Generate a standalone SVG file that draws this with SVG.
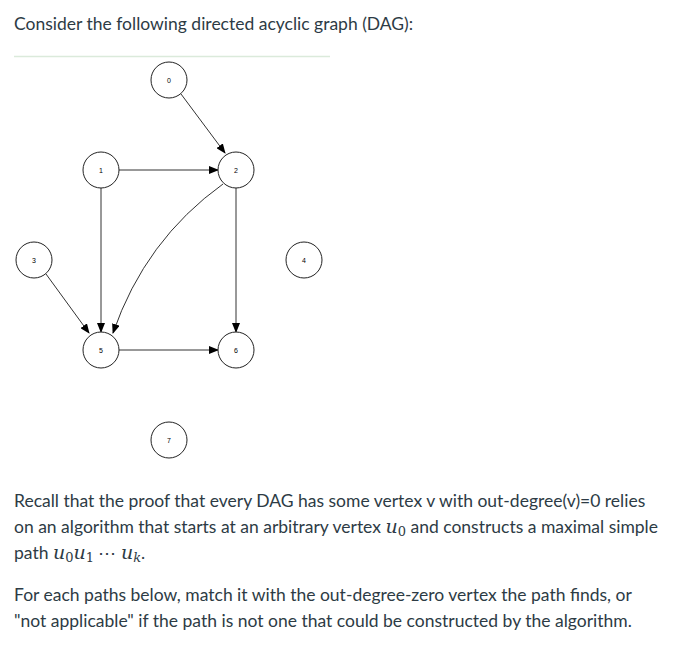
<svg xmlns="http://www.w3.org/2000/svg" width="692" height="657" viewBox="0 0 692 657">
<style>
.t{font-family:Lato,"Liberation Sans",sans-serif;font-size:17.5px;fill:#2d3b45}
.m{font-family:"DejaVu Serif",serif;font-style:italic;font-size:19px;fill:#2d3b45}
.s{font-family:"DejaVu Serif",serif;font-size:13px;fill:#2d3b45}
.n circle{fill:#fff;stroke:#222;stroke-width:1}
.n text{font-family:"Liberation Sans",sans-serif;font-size:7px;text-anchor:middle;fill:#000}
.e{stroke:#333;stroke-width:1;fill:none;marker-end:url(#a)}
</style>
<defs><marker id="a" markerWidth="10" markerHeight="8" refX="9" refY="4" orient="auto" markerUnits="userSpaceOnUse"><path d="M0,0L10,4L0,8z" fill="#000"/></marker></defs>
<rect width="692" height="657" fill="#fff"/>
<text class="t" x="14" y="30">Consider the following directed acyclic graph (DAG):</text>
<line x1="14" y1="56.5" x2="330" y2="56.5" stroke="#dbeadb" stroke-width="1.5"/>
<g id="edges">
<line class="e" x1="181" y1="94" x2="225" y2="153"/>
<line class="e" x1="119" y1="170" x2="218" y2="170"/>
<line class="e" x1="101" y1="188" x2="101" y2="332"/>
<path class="e" d="M223,184 Q145,240 113,333"/>
<line class="e" x1="236" y1="188" x2="236" y2="332"/>
<line class="e" x1="46" y1="274" x2="89" y2="333"/>
<line class="e" x1="119" y1="350" x2="218" y2="350"/>
</g>
<g id="n0" class="n"><circle cx="169" cy="80" r="18"/><text x="169" y="82.5">0</text></g>
<g id="n1" class="n"><circle cx="101" cy="170" r="18"/><text x="101" y="172.5">1</text></g>
<g id="n2" class="n"><circle cx="236" cy="170" r="18"/><text x="236" y="172.5">2</text></g>
<g id="n3" class="n"><circle cx="34" cy="260" r="18"/><text x="34" y="262.5">3</text></g>
<g id="n4" class="n"><circle cx="304" cy="260" r="18"/><text x="304" y="262.5">4</text></g>
<g id="n5" class="n"><circle cx="101" cy="350" r="18"/><text x="101" y="352.5">5</text></g>
<g id="n6" class="n"><circle cx="236" cy="350" r="18"/><text x="236" y="352.5">6</text></g>
<g id="n7" class="n"><circle cx="169" cy="440" r="18"/><text x="169" y="442.5">7</text></g>
<text class="t" x="14" y="507">Recall that the proof that every DAG has some vertex v with out-degree(v)=0 relies</text>
<text class="t" x="14" y="533">on an algorithm that starts at an arbitrary vertex <tspan class="m">u</tspan><tspan class="s" dy="3">0</tspan><tspan dy="-3"> and constructs a maximal simple</tspan></text>
<text class="t" x="14" y="559">path <tspan class="m">u</tspan><tspan class="s" dy="3">0</tspan><tspan class="m" dy="-3">u</tspan><tspan class="s" dy="3">1</tspan><tspan dy="-3"> ⋯ </tspan><tspan class="m">u</tspan><tspan class="s" font-style="italic" dy="3">k</tspan><tspan dy="-3">.</tspan></text>
<text class="t" x="14" y="601">For each paths below, match it with the out-degree-zero vertex the path finds, or</text>
<text class="t" x="14" y="627">"not applicable" if the path is not one that could be constructed by the algorithm.</text>
</svg>
